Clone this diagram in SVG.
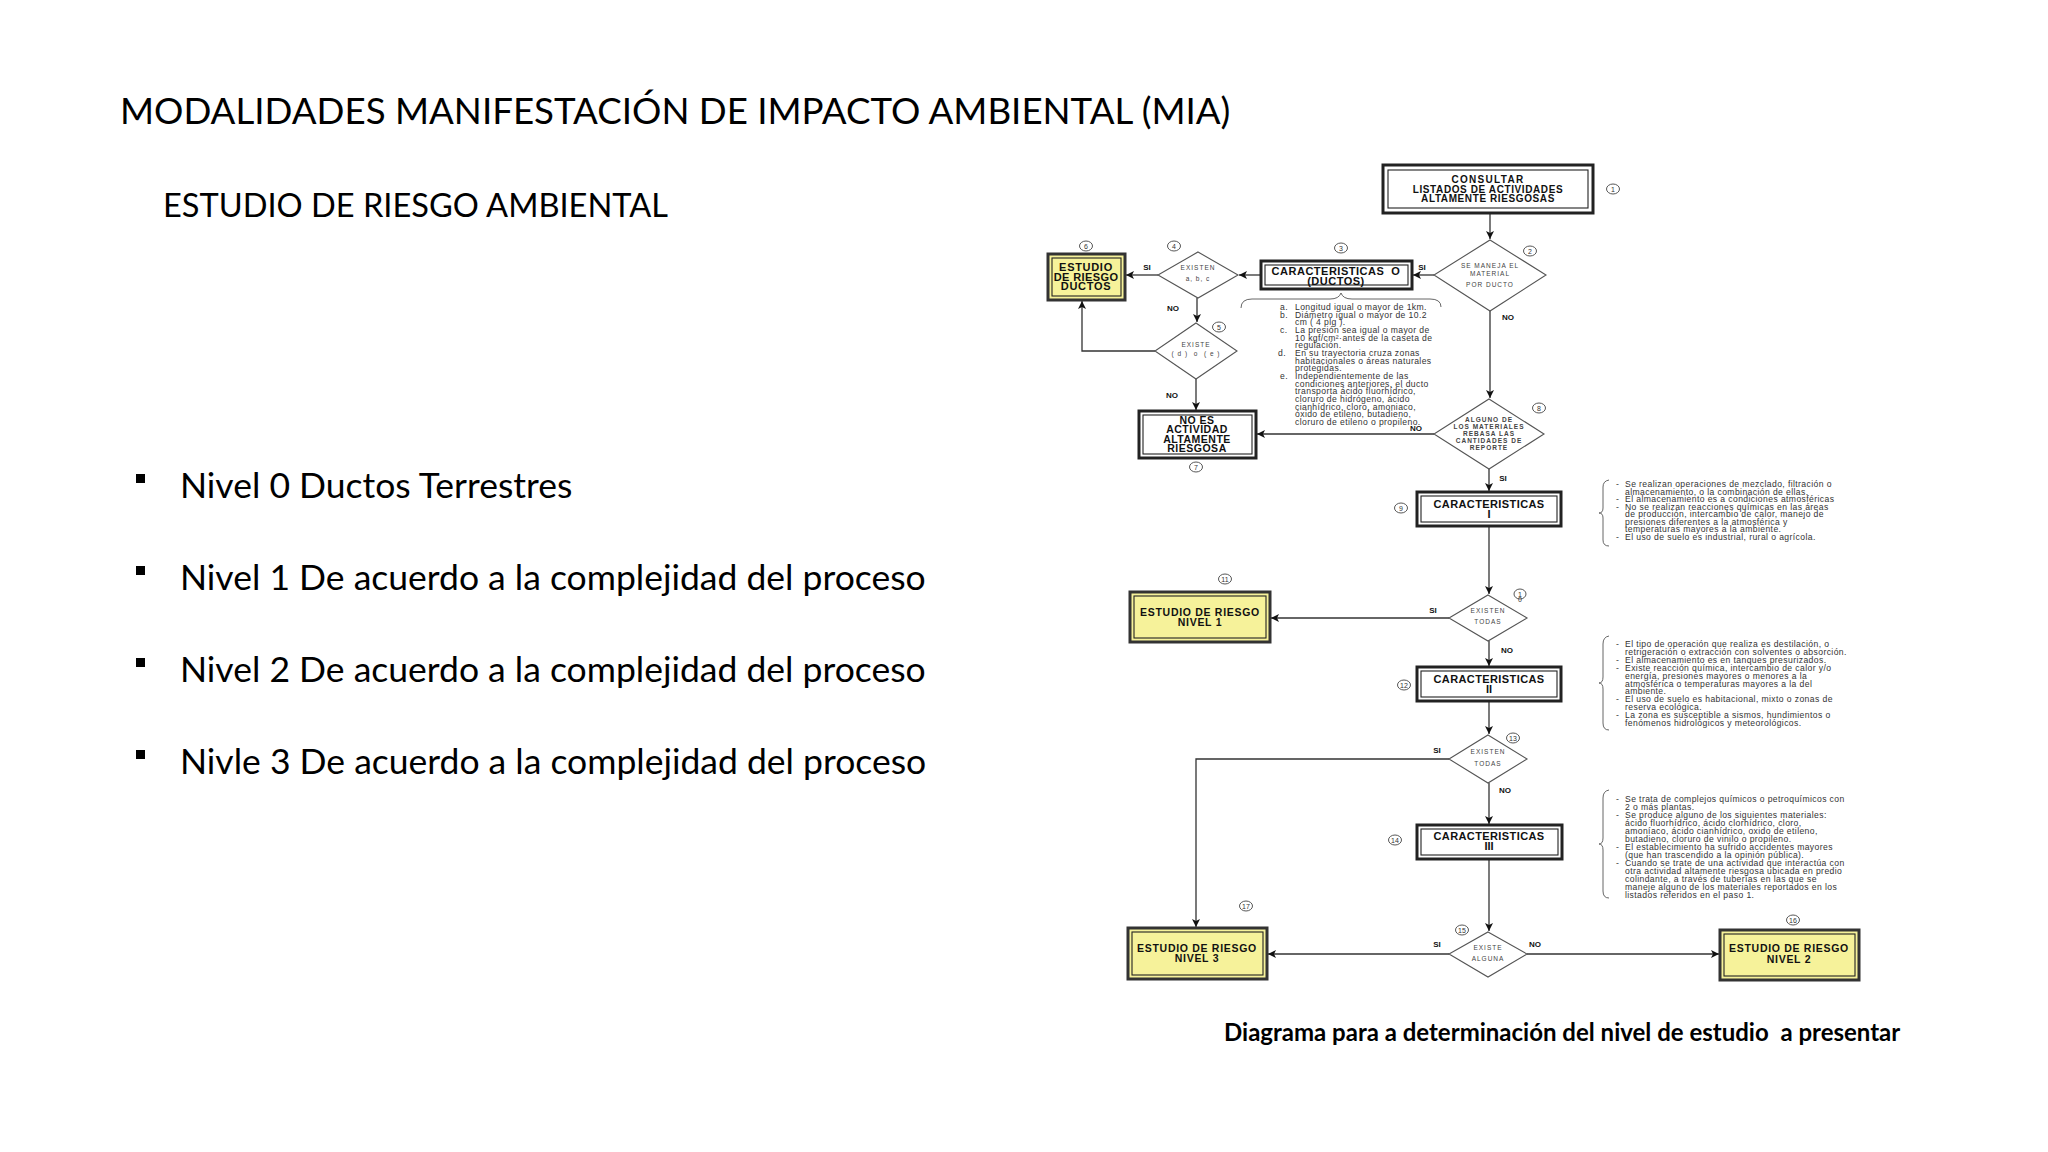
<svg xmlns="http://www.w3.org/2000/svg" width="2048" height="1152" viewBox="0 0 2048 1152">
<defs>
<style>
.lt{font-family:Lato,"Open Sans","Liberation Sans",sans-serif;fill:#000}
.bx{font-family:"Liberation Sans",Arial,sans-serif;font-weight:bold;fill:#111;text-anchor:middle}
.dt{font-family:"Liberation Sans",Arial,sans-serif;font-size:6.5px;fill:#444;text-anchor:middle;letter-spacing:1px}
.lb{font-family:"Liberation Sans",Arial,sans-serif;font-weight:bold;font-size:8px;fill:#111;text-anchor:middle}
.sm{font-family:"Liberation Sans",Arial,sans-serif;font-size:8.6px;fill:#333;letter-spacing:0.4px}
.cn{font-family:"Liberation Sans",Arial,sans-serif;font-size:7px;fill:#333;text-anchor:middle}
.ln{stroke:#333;stroke-width:1.3;fill:none}
.ob{fill:#fff;stroke:#222;stroke-width:3}
.oy{fill:#f6f29a;stroke:#333;stroke-width:3}
.ib{fill:none;stroke:#222;stroke-width:1.1}
.dm{fill:#fff;stroke:#555;stroke-width:1.1}
.cc{fill:#fff;stroke:#444;stroke-width:0.9}
.br{fill:none;stroke:#555;stroke-width:0.9}
</style>
<marker id="ah" markerWidth="8" markerHeight="8" refX="8" refY="4" orient="auto" markerUnits="userSpaceOnUse">
<path d="M0,0 L8,4 L0,8 L2,4 z" fill="#111"/>
</marker>
</defs>
<rect width="2048" height="1152" fill="#fff"/>

<g id="slide-text">
<text class="lt" x="120" y="124" font-size="36.7">MODALIDADES MANIFESTACIÓN DE IMPACTO AMBIENTAL (MIA)</text>
<text class="lt" x="163" y="217" font-size="32.6">ESTUDIO DE RIESGO AMBIENTAL</text>
<g font-size="35.5">
<rect x="136" y="474" width="9" height="9" fill="#000"/>
<text class="lt" x="180" y="498">Nivel 0 Ductos Terrestres</text>
<rect x="136" y="566" width="9" height="9" fill="#000"/>
<text class="lt" x="180" y="590">Nivel 1 De acuerdo a la complejidad del proceso</text>
<rect x="136" y="658" width="9" height="9" fill="#000"/>
<text class="lt" x="180" y="682">Nivel 2 De acuerdo a la complejidad del proceso</text>
<rect x="136" y="750" width="9" height="9" fill="#000"/>
<text class="lt" x="180" y="774">Nivle 3 De acuerdo a la complejidad del proceso</text>
</g>
<text class="lt" x="1224" y="1041" font-size="24" font-weight="bold" xml:space="preserve">Diagrama para a determinación del nivel de estudio  a presentar</text>
</g>

<g id="connectors">
<path class="ln" d="M1490,213 V239" marker-end="url(#ah)"/>
<path class="ln" d="M1434,275 H1413" marker-end="url(#ah)"/>
<path class="ln" d="M1261,275 H1239" marker-end="url(#ah)"/>
<path class="ln" d="M1158,275 H1126" marker-end="url(#ah)"/>
<path class="ln" d="M1197,298 V322" marker-end="url(#ah)"/>
<path class="ln" d="M1155,351 H1082 V301" marker-end="url(#ah)"/>
<path class="ln" d="M1196,379 V410" marker-end="url(#ah)"/>
<path class="ln" d="M1490,311 V398" marker-end="url(#ah)"/>
<path class="ln" d="M1434,434 H1257" marker-end="url(#ah)"/>
<path class="ln" d="M1489,469 V491" marker-end="url(#ah)"/>
<path class="ln" d="M1489,526 V594" marker-end="url(#ah)"/>
<path class="ln" d="M1449,618 H1271" marker-end="url(#ah)"/>
<path class="ln" d="M1489,641 V666" marker-end="url(#ah)"/>
<path class="ln" d="M1489,701 V734" marker-end="url(#ah)"/>
<path class="ln" d="M1449,759 H1196 V927" marker-end="url(#ah)"/>
<path class="ln" d="M1489,783 V824" marker-end="url(#ah)"/>
<path class="ln" d="M1489,859 V931" marker-end="url(#ah)"/>
<path class="ln" d="M1449,954 H1268" marker-end="url(#ah)"/>
<path class="ln" d="M1527,954 H1719" marker-end="url(#ah)"/>
<text class="lb" x="1422" y="270">SI</text>
<text class="lb" x="1147" y="270">SI</text>
<text class="lb" x="1173" y="311">NO</text>
<text class="lb" x="1172" y="398">NO</text>
<text class="lb" x="1508" y="320">NO</text>
<text class="lb" x="1416" y="431">NO</text>
<text class="lb" x="1503" y="481">SI</text>
<text class="lb" x="1433" y="613">SI</text>
<text class="lb" x="1507" y="653">NO</text>
<text class="lb" x="1437" y="753">SI</text>
<text class="lb" x="1505" y="793">NO</text>
<text class="lb" x="1437" y="947">SI</text>
<text class="lb" x="1535" y="947">NO</text>
</g>

<g id="n1">
<rect class="ob" x="1383" y="165" width="210" height="48"/>
<rect class="ib" x="1388" y="170" width="200" height="38"/>
<text class="bx" x="1488" y="183" font-size="10" letter-spacing="1.3">CONSULTAR</text>
<text class="bx" x="1488" y="193" font-size="10" letter-spacing="0.6">LISTADOS DE ACTIVIDADES</text>
<text class="bx" x="1488" y="202" font-size="10" letter-spacing="0.6">ALTAMENTE RIESGOSAS</text>
<ellipse class="cc" cx="1613" cy="189" rx="6.5" ry="5"/><text class="cn" x="1613" y="191.5">1</text>
</g>

<g id="n2">
<polygon class="dm" points="1490,240 1546,275 1490,311 1434,275"/>
<text class="dt" x="1490" y="268" font-size="8.5" letter-spacing="0.3">SE MANEJA EL</text>
<text class="dt" x="1490" y="276" font-size="8.5" letter-spacing="0.3">MATERIAL</text>
<text class="dt" x="1490" y="287" font-size="8.5" letter-spacing="0.3">POR DUCTO</text>
<ellipse class="cc" cx="1530" cy="251" rx="6.5" ry="5"/><text class="cn" x="1530" y="253.5">2</text>
</g>

<g id="n3">
<rect class="ob" x="1261" y="261" width="151" height="28"/>
<rect class="ib" x="1265" y="265" width="143" height="20"/>
<text class="bx" x="1336" y="275" font-size="11" letter-spacing="0.5" xml:space="preserve">CARACTERISTICAS  O</text>
<text class="bx" x="1336" y="285" font-size="11" letter-spacing="0.5">(DUCTOS)</text>
<ellipse class="cc" cx="1341" cy="248" rx="6.5" ry="5"/><text class="cn" x="1341" y="250.5">3</text>
<path class="br" d="M1241,308 Q1241,299 1252,299 L1330,299 Q1339,299 1341,293 Q1343,299 1352,299 L1430,299 Q1441,299 1441,307"/>
<g class="sm">
<text x="1280" y="310">a.</text><text x="1295" y="310">Longitud  igual  o mayor de  1km.</text>
<text x="1280" y="317.7">b.</text><text x="1295" y="317.7">Diámetro  igual o mayor de  10.2</text>
<text x="1295" y="325.3">cm  ( 4 plg ).</text>
<text x="1280" y="333">c.</text><text x="1295" y="333">La presión  sea  igual o mayor de</text>
<text x="1295" y="340.7">10 kgf/cm²·antes de la caseta de</text>
<text x="1295" y="348.3">regulación.</text>
<text x="1278" y="356">d.</text><text x="1295" y="356">En su trayectoria cruza  zonas</text>
<text x="1295" y="363.7">habitacionales  o áreas naturales</text>
<text x="1295" y="371.3">protegidas.</text>
<text x="1280" y="379">e.</text><text x="1295" y="379">Independientemente  de las</text>
<text x="1295" y="386.7">condiciones anteriores, el ducto</text>
<text x="1295" y="394.3">transporta ácido fluorhídrico,</text>
<text x="1295" y="402">cloruro de hidrógeno, ácido</text>
<text x="1295" y="409.7">cianhídrico, cloro, amoniaco,</text>
<text x="1295" y="417.3">óxido  de etileno, butadieno,</text>
<text x="1295" y="425">cloruro de etileno o propileno.</text>
</g>
</g>

<g id="n4">
<polygon class="dm" points="1198,252 1238,275 1198,298 1158,275"/>
<text class="dt" x="1198" y="270">EXISTEN</text>
<text class="dt" x="1198" y="281" letter-spacing="0.3">a, b, c</text>
<ellipse class="cc" cx="1174" cy="246" rx="6.5" ry="5"/><text class="cn" x="1174" y="248.5">4</text>
</g>

<g id="n5">
<polygon class="dm" points="1196,323 1237,351 1196,379 1155,351"/>
<text class="dt" x="1196" y="347">EXISTE</text>
<text class="dt" x="1196" y="356" xml:space="preserve">( d )  o  ( e )</text>
<ellipse class="cc" cx="1219" cy="327" rx="6.5" ry="5"/><text class="cn" x="1219" y="329.5">5</text>
</g>

<g id="n6">
<rect class="oy" x="1048" y="254" width="77" height="46"/>
<rect class="ib" x="1052" y="258" width="69" height="38"/>
<text class="bx" x="1086" y="271" font-size="11" letter-spacing="0.7">ESTUDIO</text>
<text class="bx" x="1086" y="280.5" font-size="11" letter-spacing="0.4">DE RIESGO</text>
<text class="bx" x="1086" y="290" font-size="11" letter-spacing="0.7">DUCTOS</text>
<ellipse class="cc" cx="1086" cy="246" rx="6.5" ry="5"/><text class="cn" x="1086" y="248.5">6</text>
</g>

<g id="n7">
<rect class="ob" x="1139" y="411" width="117" height="47"/>
<rect class="ib" x="1143" y="415" width="109" height="39"/>
<text class="bx" x="1197" y="424" font-size="10.5" letter-spacing="0.5">NO ES</text>
<text class="bx" x="1197" y="433" font-size="10.5" letter-spacing="0.5">ACTIVIDAD</text>
<text class="bx" x="1197" y="443" font-size="10.5" letter-spacing="0.5">ALTAMENTE</text>
<text class="bx" x="1197" y="452" font-size="10.5" letter-spacing="0.5">RIESGOSA</text>
<ellipse class="cc" cx="1196" cy="467" rx="6.5" ry="5"/><text class="cn" x="1196" y="469.5">7</text>
</g>

<g id="n8">
<polygon class="dm" points="1489,399 1544,434 1489,469 1434,434"/>
<g class="dt" font-weight="bold" fill="#222" font-size="6" letter-spacing="0.9">
<text x="1489" y="422">ALGUNO DE</text>
<text x="1489" y="429">LOS MATERIALES</text>
<text x="1489" y="436">REBASA LAS</text>
<text x="1489" y="443">CANTIDADES DE</text>
<text x="1489" y="450">REPORTE</text>
</g>
<ellipse class="cc" cx="1539" cy="408" rx="6.5" ry="5"/><text class="cn" x="1539" y="410.5">8</text>
</g>

<g id="n9">
<rect class="ob" x="1417" y="492" width="144" height="34"/>
<rect class="ib" x="1421" y="496" width="136" height="26"/>
<text class="bx" x="1489" y="508" font-size="11" letter-spacing="0.4">CARACTERISTICAS</text>
<text class="bx" x="1489" y="518" font-size="11">I</text>
<ellipse class="cc" cx="1401" cy="508" rx="6.5" ry="5"/><text class="cn" x="1401" y="510.5">9</text>
<path class="br" d="M1609,480 Q1603,481 1603,487 L1603,508 Q1603,513 1599,513 Q1603,513 1603,518 L1603,540 Q1603,546 1609,546"/>
<g class="sm">
<text x="1616" y="487">-</text><text x="1625" y="487">Se realizan operaciones de mezclado, filtración o</text>
<text x="1625" y="494.6">almacenamiento, o la combinación  de ellas.</text>
<text x="1616" y="502.1">-</text><text x="1625" y="502.1">El almacenamiento  es a condiciones atmosféricas</text>
<text x="1616" y="509.7">-</text><text x="1625" y="509.7">No se realizan reacciones  químicas  en las  áreas</text>
<text x="1625" y="517.3">de producción, intercambio de calor,  manejo de</text>
<text x="1625" y="524.9">presiones diferentes a la  atmosférica y</text>
<text x="1625" y="532.4">temperaturas mayores  a la ambiente.</text>
<text x="1616" y="540">-</text><text x="1625" y="540">El uso de suelo es industrial, rural o agrícola.</text>
</g>
</g>

<g id="n10">
<polygon class="dm" points="1488,595 1527,618 1488,641 1449,618"/>
<text class="dt" x="1488" y="613">EXISTEN</text>
<text class="dt" x="1488" y="624">TODAS</text>
<ellipse class="cc" cx="1520" cy="594" rx="6" ry="5"/><text class="cn" x="1520" y="596.5">1</text>
<text class="cn" x="1520" y="602" font-size="5">0</text>
</g>

<g id="n11">
<rect class="oy" x="1130" y="592" width="140" height="50"/>
<rect class="ib" x="1134" y="596" width="132" height="42"/>
<text class="bx" x="1200" y="616" font-size="10.5" letter-spacing="0.7">ESTUDIO DE RIESGO</text>
<text class="bx" x="1200" y="626" font-size="10.5" letter-spacing="0.7">NIVEL 1</text>
<ellipse class="cc" cx="1225" cy="579" rx="6.5" ry="5"/><text class="cn" x="1225" y="581.5">11</text>
</g>

<g id="n12">
<rect class="ob" x="1417" y="667" width="144" height="34"/>
<rect class="ib" x="1421" y="671" width="136" height="26"/>
<text class="bx" x="1489" y="683" font-size="11" letter-spacing="0.4">CARACTERISTICAS</text>
<text class="bx" x="1489" y="693" font-size="11">II</text>
<ellipse class="cc" cx="1404" cy="685" rx="6.5" ry="5"/><text class="cn" x="1404" y="687.5">12</text>
<path class="br" d="M1609,636 Q1603,637 1603,644 L1603,677 Q1603,683 1599,683 Q1603,683 1603,689 L1603,723 Q1603,730 1609,730"/>
<g class="sm">
<text x="1616" y="647">-</text><text x="1625" y="647">El tipo  de operación que realiza es destilación, o</text>
<text x="1625" y="654.9">retrigeración o extracción con solventes o absorción.</text>
<text x="1616" y="662.8">-</text><text x="1625" y="662.8">El almacenamiento es en tanques presurizados.</text>
<text x="1616" y="670.7">-</text><text x="1625" y="670.7">Existe reacción química, intercambio de calor y/o</text>
<text x="1625" y="678.6">energía, presiones  mayores o menores a la</text>
<text x="1625" y="686.5">atmosférica  o temperaturas mayores a la del</text>
<text x="1625" y="694.4">ambiente.</text>
<text x="1616" y="702.3">-</text><text x="1625" y="702.3">El uso de suelo es habitacional,  mixto o zonas de</text>
<text x="1625" y="710.2">reserva ecológica.</text>
<text x="1616" y="718.1">-</text><text x="1625" y="718.1">La zona es susceptible a sismos, hundimientos o</text>
<text x="1625" y="726">fenómenos hidrológicos y meteorológicos.</text>
</g>
</g>

<g id="n13">
<polygon class="dm" points="1488,735 1527,759 1488,783 1449,759"/>
<text class="dt" x="1488" y="754">EXISTEN</text>
<text class="dt" x="1488" y="766">TODAS</text>
<ellipse class="cc" cx="1513" cy="738" rx="6.5" ry="5"/><text class="cn" x="1513" y="740.5">13</text>
</g>

<g id="n14">
<rect class="ob" x="1417" y="825" width="145" height="34"/>
<rect class="ib" x="1421" y="829" width="137" height="26"/>
<text class="bx" x="1489" y="840" font-size="11" letter-spacing="0.4">CARACTERISTICAS</text>
<text class="bx" x="1489" y="850" font-size="11">III</text>
<ellipse class="cc" cx="1395" cy="840" rx="6.5" ry="5"/><text class="cn" x="1395" y="842.5">14</text>
<path class="br" d="M1609,790 Q1603,791 1603,798 L1603,838 Q1603,844 1599,844 Q1603,844 1603,850 L1603,891 Q1603,898 1609,898"/>
<g class="sm">
<text x="1616" y="802">-</text><text x="1625" y="802">Se trata de complejos químicos o petroquímicos con</text>
<text x="1625" y="810">2 o más plantas.</text>
<text x="1616" y="818">-</text><text x="1625" y="818">Se produce alguno de los siguientes materiales:</text>
<text x="1625" y="826">ácido fluorhídrico, ácido clorhídrico, cloro,</text>
<text x="1625" y="834">amoníaco, ácido cianhídrico, oxido de etileno,</text>
<text x="1625" y="842">butadieno, cloruro de vinilo o propileno.</text>
<text x="1616" y="850">-</text><text x="1625" y="850">El establecimiento ha sufrido accidentes mayores</text>
<text x="1625" y="858">(que han trascendido a la opinión pública).</text>
<text x="1616" y="866">-</text><text x="1625" y="866">Cuando se trate de una actividad que interactúa con</text>
<text x="1625" y="874">otra actividad altamente riesgosa ubicada en predio</text>
<text x="1625" y="882">colindante, a través de tuberías en las que se</text>
<text x="1625" y="890">maneje alguno de los materiales reportados en los</text>
<text x="1625" y="898">listados referidos en el paso 1.</text>
</g>
</g>

<g id="n15">
<polygon class="dm" points="1488,932 1527,954 1488,977 1449,954"/>
<text class="dt" x="1488" y="950">EXISTE</text>
<text class="dt" x="1488" y="961">ALGUNA</text>
<ellipse class="cc" cx="1462" cy="930" rx="6.5" ry="5"/><text class="cn" x="1462" y="932.5">15</text>
</g>

<g id="n16">
<rect class="oy" x="1720" y="930" width="139" height="50"/>
<rect class="ib" x="1724" y="934" width="131" height="42"/>
<text class="bx" x="1789" y="952" font-size="10.5" letter-spacing="0.7">ESTUDIO DE RIESGO</text>
<text class="bx" x="1789" y="963" font-size="10.5" letter-spacing="0.7">NIVEL 2</text>
<ellipse class="cc" cx="1793" cy="920" rx="6.5" ry="5"/><text class="cn" x="1793" y="922.5">16</text>
</g>

<g id="n17">
<rect class="oy" x="1128" y="928" width="139" height="51"/>
<rect class="ib" x="1132" y="932" width="131" height="43"/>
<text class="bx" x="1197" y="952" font-size="10.5" letter-spacing="0.7">ESTUDIO DE RIESGO</text>
<text class="bx" x="1197" y="962" font-size="10.5" letter-spacing="0.7">NIVEL 3</text>
<ellipse class="cc" cx="1246" cy="906" rx="6.5" ry="5"/><text class="cn" x="1246" y="908.5">17</text>
</g>
</svg>
